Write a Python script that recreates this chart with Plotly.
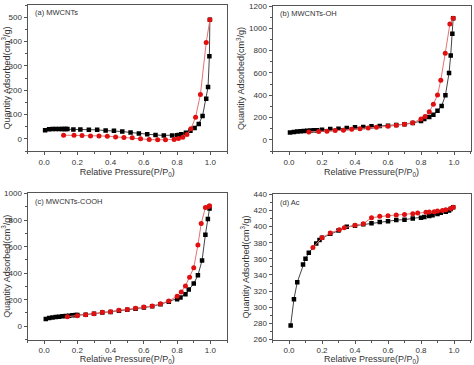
import plotly.graph_objects as go

# ---------- data ----------
# (a) MWCNTs
a_ads_x = [0.006, 0.03, 0.05, 0.07, 0.09, 0.107, 0.12, 0.13, 0.14, 0.176, 0.218, 0.269, 0.319, 0.37, 0.42,
           0.47, 0.52, 0.57, 0.62, 0.67, 0.72, 0.77, 0.80, 0.81, 0.825, 0.853, 0.88, 0.905, 0.93, 0.953,
           0.975, 0.986, 0.994, 0.997]
a_ads_y = [35, 39, 40, 40, 40, 40, 40, 40, 40, 38, 38, 37, 37, 34, 33,
           30, 26, 22, 19, 16, 14, 14, 15, 16, 19, 25, 33, 45, 61, 94,
           165, 213, 339, 489]
a_des_x = [0.117, 0.18, 0.228, 0.279, 0.33, 0.38, 0.43, 0.48, 0.53, 0.58, 0.632, 0.683, 0.73, 0.782,
           0.808, 0.834, 0.859, 0.883, 0.911, 0.94, 0.975, 0.997]
a_des_y = [15, 15, 14, 12, 12, 11, 8, 5.5, 4, 0, -3, -4, -4, -3,
           1, 7, 18, 41, 89, 182, 396, 489]

# (b) MWCNTs-OH
b_ads_x = [0.006, 0.03, 0.05, 0.07, 0.09, 0.11, 0.13, 0.15, 0.17, 0.2, 0.25, 0.3, 0.35, 0.4, 0.45, 0.5,
           0.55, 0.6, 0.65, 0.7, 0.75, 0.8, 0.82, 0.85, 0.875, 0.9, 0.925, 0.948, 0.97, 0.98, 0.99, 0.995]
b_ads_y = [65, 70, 74, 77, 79, 81, 83, 85, 87, 90, 97, 100, 106, 112, 115, 121,
           124, 127, 133, 139, 151, 168, 186, 204, 225, 260, 304, 399, 600, 757, 952, 1091]
b_des_x = [0.12, 0.18, 0.23, 0.28, 0.33, 0.38, 0.43, 0.48, 0.53, 0.6, 0.65, 0.7, 0.75, 0.8, 0.825,
           0.85, 0.875, 0.9, 0.92, 0.947, 0.975, 0.995]
b_des_y = [71, 74, 77, 83, 86, 95, 100, 106, 112, 121, 130, 139, 154, 186, 210,
           251, 319, 402, 535, 777, 1038, 1091]

# (c) MWCNTs-COOH
c_ads_x = [0.01, 0.03, 0.05, 0.07, 0.09, 0.11, 0.13, 0.15, 0.17, 0.19, 0.2, 0.25, 0.3, 0.35, 0.4, 0.45,
           0.5, 0.55, 0.6, 0.65, 0.7, 0.75, 0.8, 0.82, 0.85, 0.87, 0.9, 0.925, 0.95, 0.97, 0.985, 0.995]
c_ads_y = [55, 62, 65, 70, 72, 75, 77, 80, 82, 85, 85, 87, 94, 103, 108, 117,
           124, 132, 141, 150, 166, 185, 204, 217, 242, 277, 322, 384, 496, 691, 808, 888]
c_des_x = [0.14, 0.2, 0.25, 0.3, 0.35, 0.4, 0.45, 0.5, 0.55, 0.6, 0.65, 0.7, 0.75, 0.8, 0.825, 0.85,
           0.875, 0.9, 0.925, 0.945, 0.97, 0.99, 0.995]
c_des_y = [72, 80, 87, 95, 105, 110, 120, 127, 135, 145, 152, 170, 190, 227, 259, 304,
           369, 441, 613, 775, 895, 903, 908]

# (d) Ac
d_ads_x = [0.01, 0.03, 0.05, 0.085, 0.1, 0.12, 0.165, 0.185, 0.2, 0.25, 0.3, 0.35, 0.4, 0.45, 0.5, 0.55,
           0.6, 0.65, 0.7, 0.75, 0.8, 0.82, 0.85, 0.87, 0.9, 0.92, 0.95, 0.97, 0.98, 0.995]
d_ads_y = [277.5, 310, 331, 353, 360, 367.5, 379, 383.5, 386, 391, 395, 399.7, 401, 403, 404, 405.8,
           406.6, 408, 408.6, 410, 411, 412, 413, 414, 415.5, 417, 418.5, 420, 421.7, 424]
d_des_x = [0.145, 0.2, 0.25, 0.305, 0.335, 0.4, 0.45, 0.5, 0.55, 0.6, 0.65, 0.7, 0.75, 0.78, 0.83,
           0.85, 0.88, 0.9, 0.93, 0.95, 0.98, 0.995]
d_des_y = [374, 386, 392, 396, 398.5, 401.5, 403.5, 411, 412.7, 413.5, 414.3, 415, 416, 416.8, 417.6,
           418, 418.4, 419.2, 420, 421, 422.5, 424]

panel_labels = ["(a) MWCNTs", "(b) MWCNTs-OH", "(c) MWCNTs-COOH", "(d) Ac"]
x_ticks = [0.0, 0.2, 0.4, 0.6, 0.8, 1.0]
x_tick_text = ["0.0", "0.2", "0.4", "0.6", "0.8", "1.0"]
y_ranges = [[-50, 550], [-100, 1200], [-100, 1005], [260, 440]]
y_dticks = [100, 200, 200, 20]

W, H = 474, 365
# panel frames in pixels (left, right, top, bottom)
frames = [(27.5, 227.0, 5.0, 151.0),
          (272.5, 470.5, 6.0, 151.0),
          (27.5, 227.0, 193.0, 339.5),
          (272.5, 470.5, 194.3, 339.5)]

data_sets = [(a_ads_x, a_ads_y, a_des_x, a_des_y),
             (b_ads_x, b_ads_y, b_des_x, b_des_y),
             (c_ads_x, c_ads_y, c_des_x, c_des_y),
             (d_ads_x, d_ads_y, d_des_x, d_des_y)]

fig = go.Figure()
FONT = "Liberation Sans, Arial, sans-serif"
axis_col = "#555555"
text_col = "#333333"

layout = dict(width=W, height=H, margin=dict(l=0, r=0, t=0, b=0),
              paper_bgcolor="white", plot_bgcolor="white", showlegend=False,
              font=dict(family=FONT, color=text_col))
annotations = []

for i, (ax, ay, dx, dy) in enumerate(data_sets):
    n = "" if i == 0 else str(i + 1)
    xr = "x" + n
    yr = "y" + n
    fig.add_trace(go.Scatter(x=ax, y=ay, mode="lines+markers", xaxis=xr, yaxis=yr,
                             line=dict(color="#444444", width=1),
                             marker=dict(symbol="square", size=4.5, color="black")))
    fig.add_trace(go.Scatter(x=dx, y=dy, mode="lines+markers", xaxis=xr, yaxis=yr,
                             line=dict(color="#e57373", width=1),
                             marker=dict(symbol="circle", size=5, color="#e01010")))
    l, r, t, b = frames[i]
    common = dict(showline=True, mirror=True, linecolor=axis_col, linewidth=1,
                  ticks="outside", ticklen=3, tickcolor=axis_col, tickwidth=1,
                  showgrid=False, zeroline=False,
                  tickfont=dict(size=8, color=text_col, family=FONT),
                  automargin=False)
    layout["xaxis" + n] = dict(common, domain=[l / W, r / W], anchor=yr, range=[-0.1, 1.1],
                               tickvals=x_ticks, ticktext=x_tick_text,
                               minor=dict(ticks="outside", ticklen=2, tickcolor=axis_col, dtick=0.1,
                                          tick0=0),
                               title=dict(text="Relative Pressure(P/P<sub>0</sub>)",
                                          font=dict(size=9, color=text_col, family=FONT), standoff=3))
    layout["yaxis" + n] = dict(common, domain=[(H - b) / H, (H - t) / H], anchor=xr,
                               range=y_ranges[i], dtick=y_dticks[i], tick0=0,
                               minor=dict(ticks="outside", ticklen=2, tickcolor=axis_col,
                                          dtick=y_dticks[i] / 2, tick0=0),
                               title=dict(text="Quantity Adsorbed(cm<sup>3</sup>/g)",
                                          font=dict(size=9, color=text_col, family=FONT), standoff=2))
    annotations.append(dict(text=panel_labels[i], xref="paper", yref="paper",
                            x=(l + 5) / W, y=(H - t - 8) / H, xanchor="left", yanchor="middle",
                            showarrow=False, font=dict(size=7.5, color=text_col, family=FONT)))

layout["annotations"] = annotations
fig.update_layout(**layout)
fig.write_html("out.html", config={"displayModeBar": False},
               post_script="document.body.style.margin='0';document.body.style.padding='0';")
